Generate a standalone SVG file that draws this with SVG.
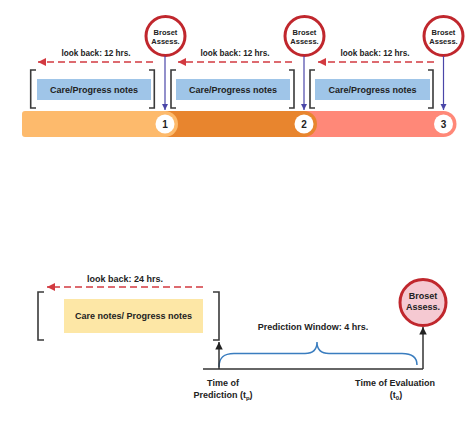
<svg xmlns="http://www.w3.org/2000/svg" width="474" height="434" viewBox="0 0 474 434">
<defs>
<style>
text{font-family:"Liberation Sans",Arial,sans-serif;font-weight:bold;fill:#222;text-anchor:middle}
.lb{font-size:8.2px}
.nt{font-size:9px}
.br{fill:none;stroke:#3a3a3a;stroke-width:1.6}
.dash{fill:none;stroke:#d23a40;stroke-width:1.4;stroke-dasharray:7 4}
.bro{fill:#fff;stroke:#c0272d;stroke-width:3}
.bro2{fill:#f5c9d2;stroke:#c0272d;stroke-width:3}
.va{stroke:#4a46a8;stroke-width:1.2;fill:none}
.blk{stroke:#333;stroke-width:1.5;fill:none}
.box{fill:#9fc5e8}
.num{fill:#fff}
</style>
<marker id="ar" viewBox="0 0 10 10" refX="10" refY="5" markerWidth="6" markerHeight="6" orient="auto"><path d="M0,0 L10,5 L0,10 z" fill="#d23a40"/></marker>
<marker id="av" viewBox="0 0 10 10" refX="10" refY="5" markerWidth="5" markerHeight="6" orient="auto"><path d="M0,0 L10,5 L0,10 z" fill="#4a46a8"/></marker>
<marker id="ak" viewBox="0 0 10 10" refX="10" refY="5" markerWidth="5" markerHeight="5" orient="auto"><path d="M0,0 L10,5 L0,10 z" fill="#222"/></marker>
</defs>

<g id="bar">
<path d="M290,111 H443.5 A13,13 0 0 1 443.5,137 H290 Z" fill="#ff8878"/>
<path d="M150,111 H304 A13,13 0 0 1 304,137 H150 Z" fill="#e8852e"/>
<path d="M25,111 H165 A13,13 0 0 1 165,137 H25 Q22,137 22,134 V114 Q22,111 25,111 Z" fill="#fdba6c"/>
</g>

<g id="step1">
<circle class="num" cx="165" cy="124" r="9.5"/>
<text x="165" y="127.5" style="font-size:10px">1</text>
</g>
<g id="step2">
<circle class="num" cx="304" cy="124" r="9.5"/>
<text x="304" y="127.5" style="font-size:10px">2</text>
</g>
<g id="step3">
<circle class="num" cx="443.5" cy="124" r="9.5"/>
<text x="443.5" y="127.5" style="font-size:10px">3</text>
</g>

<g id="broset1">
<circle class="bro" cx="165.5" cy="36" r="19.5"/>
<text x="165.5" y="34.5" style="font-size:7.5px">Broset</text>
<text x="165.5" y="43.5" style="font-size:7.5px">Assess.</text>
</g>
<g id="broset2">
<circle class="bro" cx="304.5" cy="36" r="19.5"/>
<text x="304.5" y="34.5" style="font-size:7.5px">Broset</text>
<text x="304.5" y="43.5" style="font-size:7.5px">Assess.</text>
</g>
<g id="broset3">
<circle class="bro" cx="443.5" cy="36" r="19.5"/>
<text x="443.5" y="34.5" style="font-size:7.5px">Broset</text>
<text x="443.5" y="43.5" style="font-size:7.5px">Assess.</text>
</g>

<g id="notes1">
<path class="br" d="M36,70 H30.7 V108 H36 M149,70 H154.3 V108 H149"/>
<rect class="box" x="37" y="79" width="114" height="21"/>
<text class="nt" x="94" y="92.5">Care/Progress notes</text>
</g>
<g id="notes2">
<path class="br" d="M176,70 H171 V108 H176 M289,70 H294 V108 H289"/>
<rect class="box" x="176" y="79" width="114" height="21"/>
<text class="nt" x="233" y="92.5">Care/Progress notes</text>
</g>
<g id="notes3">
<path class="br" d="M315,70 H310 V108 H315 M428,70 H433 V108 H428"/>
<rect class="box" x="315" y="79" width="115" height="21"/>
<text class="nt" x="372.5" y="92.5">Care/Progress notes</text>
</g>

<g id="lookback-labels">
<text class="lb" x="96" y="56">look back: 12 hrs.</text>
<text class="lb" x="235" y="56">look back: 12 hrs.</text>
<text class="lb" x="375" y="56">look back: 12 hrs.</text>
<text x="125" y="281.5" style="font-size:9px">look back: 24 hrs.</text>
</g>

<g id="notes-bottom">
<path class="br" d="M44,292 H38 V340 H44 M213,292 H219 V340 H213"/>
<rect x="64" y="299" width="139" height="34" fill="#fde7a6"/>
<text class="nt" x="133.5" y="319">Care notes/ Progress notes</text>
</g>

<g id="broset-eval">
<circle class="bro2" cx="423" cy="302.5" r="23"/>
<text x="423" y="299" style="font-size:9px">Broset</text>
<text x="423" y="310" style="font-size:9px">Assess.</text>
</g>

<g id="timeline">
<line class="blk" x1="203" y1="369" x2="423" y2="369"/>
<path d="M219,367 C219,358 223,353.5 234,353.5 H305 C313,353.5 317,350 317,342 C317,350 321,353.5 329,353.5 H402 C412,353.5 417,358 417,365" fill="none" stroke="#3a7dbf" stroke-width="1.5"/>
<text class="nt" x="313" y="330">Prediction Window: 4 hrs.</text>
<text class="nt" x="223" y="386">Time of</text>
<text class="nt" x="223" y="397.5">Prediction (t<tspan font-size="6" dy="2">p</tspan><tspan dy="-2">)</tspan></text>
<text class="nt" x="395" y="386">Time of Evaluation</text>
<text class="nt" x="396" y="397.5">(t<tspan font-size="6" dy="2">0</tspan><tspan dy="-2">)</tspan></text>
</g>

<g id="connectors">
<line class="va" x1="165" y1="56" x2="165" y2="110" marker-end="url(#av)"/>
<line class="va" x1="304" y1="56" x2="304" y2="110" marker-end="url(#av)"/>
<line class="va" x1="443.5" y1="56" x2="443.5" y2="110" marker-end="url(#av)"/>
<line class="dash" x1="153" y1="62" x2="38" y2="62" marker-end="url(#ar)"/>
<line class="dash" x1="292" y1="62" x2="178" y2="62" marker-end="url(#ar)"/>
<line class="dash" x1="434" y1="62" x2="318" y2="62" marker-end="url(#ar)"/>
<line class="dash" x1="203" y1="287" x2="47" y2="287" marker-end="url(#ar)"/>
<line class="blk" x1="219" y1="369" x2="219" y2="342" marker-end="url(#ak)"/>
<line class="blk" x1="423" y1="369" x2="423" y2="327" marker-end="url(#ak)"/>
</g>
</svg>
